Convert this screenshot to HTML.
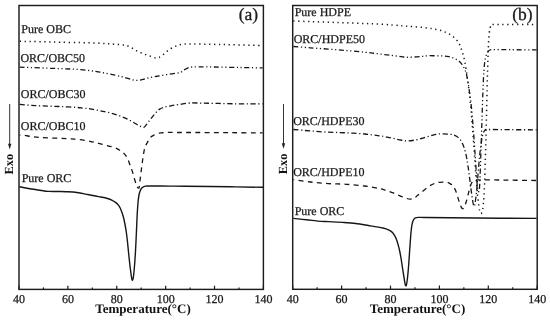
<!DOCTYPE html>
<html><head><meta charset="utf-8"><title>DSC curves</title>
<style>html,body{margin:0;padding:0;background:#fff;width:550px;height:320px;overflow:hidden}svg{display:block;text-rendering:geometricPrecision}</style>
</head><body>
<svg width="550" height="320" viewBox="0 0 550 320">
<rect width="550" height="320" fill="#fff"/>
<g fill="none" stroke="#1c1c1c" stroke-width="1.45">
<rect x="19.0" y="5.5" width="244.40" height="283.90"/>
<rect x="292.7" y="5.5" width="244.50" height="283.80"/>
</g>
<g stroke="#1c1c1c" stroke-width="1.2">
<line x1="19.00" y1="289.4" x2="19.00" y2="285.70"/>
<line x1="43.44" y1="289.4" x2="43.44" y2="287.40"/>
<line x1="67.88" y1="289.4" x2="67.88" y2="285.70"/>
<line x1="92.32" y1="289.4" x2="92.32" y2="287.40"/>
<line x1="116.76" y1="289.4" x2="116.76" y2="285.70"/>
<line x1="141.20" y1="289.4" x2="141.20" y2="287.40"/>
<line x1="165.64" y1="289.4" x2="165.64" y2="285.70"/>
<line x1="190.08" y1="289.4" x2="190.08" y2="287.40"/>
<line x1="214.52" y1="289.4" x2="214.52" y2="285.70"/>
<line x1="238.96" y1="289.4" x2="238.96" y2="287.40"/>
<line x1="263.40" y1="289.4" x2="263.40" y2="285.70"/>
<line x1="292.70" y1="289.3" x2="292.70" y2="285.60"/>
<line x1="317.15" y1="289.3" x2="317.15" y2="287.30"/>
<line x1="341.60" y1="289.3" x2="341.60" y2="285.60"/>
<line x1="366.05" y1="289.3" x2="366.05" y2="287.30"/>
<line x1="390.50" y1="289.3" x2="390.50" y2="285.60"/>
<line x1="414.95" y1="289.3" x2="414.95" y2="287.30"/>
<line x1="439.40" y1="289.3" x2="439.40" y2="285.60"/>
<line x1="463.85" y1="289.3" x2="463.85" y2="287.30"/>
<line x1="488.30" y1="289.3" x2="488.30" y2="285.60"/>
<line x1="512.75" y1="289.3" x2="512.75" y2="287.30"/>
<line x1="537.20" y1="289.3" x2="537.20" y2="285.60"/>
</g>
<g font-family="'Liberation Serif', serif" font-size="12" fill="#1a1a1a" stroke="#1a1a1a" stroke-width="0.25">
<text x="19.00" y="302.6" text-anchor="middle">40</text>
<text x="67.88" y="302.6" text-anchor="middle">60</text>
<text x="116.76" y="302.6" text-anchor="middle">80</text>
<text x="165.64" y="302.6" text-anchor="middle">100</text>
<text x="214.52" y="302.6" text-anchor="middle">120</text>
<text x="263.40" y="302.6" text-anchor="middle">140</text>
<text x="292.70" y="302.6" text-anchor="middle">40</text>
<text x="341.60" y="302.6" text-anchor="middle">60</text>
<text x="390.50" y="302.6" text-anchor="middle">80</text>
<text x="439.40" y="302.6" text-anchor="middle">100</text>
<text x="488.30" y="302.6" text-anchor="middle">120</text>
<text x="537.20" y="302.6" text-anchor="middle">140</text>
<text x="21.3" y="32.7">Pure OBC</text>
<text x="20.4" y="62.3">ORC/OBC50</text>
<text x="20.8" y="98.0">ORC/OBC30</text>
<text x="20.8" y="129.9">ORC/OBC10</text>
<text x="21.7" y="181.9">Pure ORC</text>
<text x="294.7" y="16.1">Pure HDPE</text>
<text x="293.7" y="42.7">ORC/HDPE50</text>
<text x="293.2" y="125.2">ORC/HDPE30</text>
<text x="293.2" y="176.4">ORC/HDPE10</text>
<text x="294.7" y="214.5">Pure ORC</text>
</g>
<g font-family="'Liberation Serif', serif" font-size="17.5" fill="#1a1a1a" stroke="#1a1a1a" stroke-width="0.3">
<text x="238.7" y="19.6">(a)</text>
<text x="512.3" y="19.5">(b)</text>
</g>
<g font-family="'Liberation Serif', serif" font-size="13" font-weight="bold" fill="#111">
<text x="95.3" y="312.7">Temperature(°C)</text>
<text x="369.8" y="313">Temperature(°C)</text>
<text transform="translate(12.6,164.2) rotate(-90)" font-size="12.4" text-anchor="middle">Exo</text>
<text transform="translate(286.9,163.9) rotate(-90)" font-size="12.4" text-anchor="middle">Exo</text>
</g>
<line x1="9.7" y1="104" x2="9.7" y2="145" stroke="#333" stroke-width="1"/>
<path d="M8.0,143.8 L11.4,143.8 L9.7,149.6 Z" fill="#222"/>
<line x1="283.5" y1="104" x2="283.5" y2="144" stroke="#333" stroke-width="1"/>
<path d="M281.8,143.2 L285.2,143.2 L283.5,148.8 Z" fill="#222"/>
<path d="M19.80,41.30 C21.50,41.33 25.80,41.42 30.00,41.50 C34.20,41.58 40.00,41.68 45.00,41.80 C50.00,41.92 54.17,42.07 60.00,42.20 C65.83,42.33 74.00,42.47 80.00,42.60 C86.00,42.73 91.00,42.78 96.00,43.00 C101.00,43.22 105.47,43.57 110.00,43.90 C114.53,44.23 120.22,44.65 123.20,45.00 C126.18,45.35 126.38,45.47 127.90,46.00 C129.42,46.53 130.90,47.42 132.30,48.20 C133.70,48.98 134.92,49.97 136.30,50.70 C137.68,51.43 139.18,52.00 140.60,52.60 C142.02,53.20 143.32,53.77 144.80,54.30 C146.28,54.83 148.02,55.28 149.50,55.80 C150.98,56.32 152.53,57.03 153.70,57.40 C154.87,57.77 155.62,57.98 156.50,58.00 C157.38,58.02 157.98,57.97 159.00,57.50 C160.02,57.03 161.42,56.12 162.60,55.20 C163.78,54.28 164.87,53.02 166.10,52.00 C167.33,50.98 168.60,49.98 170.00,49.10 C171.40,48.22 173.03,47.38 174.50,46.70 C175.97,46.02 177.33,45.42 178.80,45.00 C180.27,44.58 181.65,44.38 183.30,44.20 C184.95,44.02 185.92,43.92 188.70,43.90 C191.48,43.88 194.78,44.00 200.00,44.10 C205.22,44.20 213.33,44.35 220.00,44.50 C226.67,44.65 232.90,44.83 240.00,45.00 C247.10,45.17 258.83,45.42 262.60,45.50" fill="none" stroke="#161616" stroke-width="1.5" stroke-dasharray="1.3 3.6" stroke-linejoin="round" stroke-linecap="butt"/>
<path d="M19.60,67.10 C21.33,67.17 25.43,67.32 30.00,67.50 C34.57,67.68 41.67,68.00 47.00,68.20 C52.33,68.40 57.17,68.52 62.00,68.70 C66.83,68.88 71.33,68.98 76.00,69.30 C80.67,69.62 86.00,70.12 90.00,70.60 C94.00,71.08 96.67,71.62 100.00,72.20 C103.33,72.78 106.42,73.37 110.00,74.10 C113.58,74.83 118.38,75.83 121.50,76.60 C124.62,77.37 126.78,78.15 128.70,78.70 C130.62,79.25 131.70,79.63 133.00,79.90 C134.30,80.17 135.33,80.27 136.50,80.30 C137.67,80.33 138.75,80.30 140.00,80.10 C141.25,79.90 142.48,79.50 144.00,79.10 C145.52,78.70 146.80,78.20 149.10,77.70 C151.40,77.20 154.65,76.65 157.80,76.10 C160.95,75.55 164.60,74.93 168.00,74.40 C171.40,73.87 175.95,73.33 178.20,72.90 C180.45,72.47 180.53,72.28 181.50,71.80 C182.47,71.32 183.08,70.58 184.00,70.00 C184.92,69.42 185.92,68.77 187.00,68.30 C188.08,67.83 188.58,67.45 190.50,67.20 C192.42,66.95 194.58,66.83 198.50,66.80 C202.42,66.77 207.08,66.88 214.00,67.00 C220.92,67.12 231.90,67.35 240.00,67.50 C248.10,67.65 258.83,67.83 262.60,67.90" fill="none" stroke="#161616" stroke-width="1.3" stroke-dasharray="5 2.6 1.2 2.6 1.2 2.6" stroke-linejoin="round" stroke-linecap="butt"/>
<path d="M19.60,104.40 C21.33,104.53 26.63,104.97 30.00,105.20 C33.37,105.43 36.47,105.63 39.80,105.80 C43.13,105.97 46.37,106.07 50.00,106.20 C53.63,106.33 57.23,106.40 61.60,106.60 C65.97,106.80 72.47,107.13 76.20,107.40 C79.93,107.67 81.70,107.97 84.00,108.20 C86.30,108.43 87.78,108.47 90.00,108.80 C92.22,109.13 94.88,109.73 97.30,110.20 C99.72,110.67 102.08,111.07 104.50,111.60 C106.92,112.13 109.37,112.72 111.80,113.40 C114.23,114.08 116.67,114.83 119.10,115.70 C121.53,116.57 123.98,117.47 126.40,118.60 C128.82,119.73 131.42,121.28 133.60,122.50 C135.78,123.72 138.05,125.13 139.50,125.90 C140.95,126.67 141.62,126.85 142.30,127.10 C142.98,127.35 143.18,127.48 143.60,127.40 C144.02,127.32 144.33,127.05 144.80,126.60 C145.27,126.15 145.70,125.60 146.40,124.70 C147.10,123.80 148.10,122.38 149.00,121.20 C149.90,120.02 150.87,118.77 151.80,117.60 C152.73,116.43 153.68,115.28 154.60,114.20 C155.52,113.12 156.40,111.98 157.30,111.10 C158.20,110.22 159.05,109.48 160.00,108.90 C160.95,108.32 162.00,107.97 163.00,107.60 C164.00,107.23 164.50,107.03 166.00,106.70 C167.50,106.37 169.82,105.97 172.00,105.60 C174.18,105.23 176.28,104.92 179.10,104.50 C181.92,104.08 185.78,103.35 188.90,103.10 C192.02,102.85 190.02,102.88 197.80,103.00 C205.58,103.12 224.80,103.65 235.60,103.80 C246.40,103.95 258.10,103.88 262.60,103.90" fill="none" stroke="#161616" stroke-width="1.3" stroke-dasharray="5.2 2.6 1.2 2.6" stroke-linejoin="round" stroke-linecap="butt"/>
<path d="M19.60,135.10 C20.37,135.15 22.13,135.15 24.20,135.40 C26.27,135.65 29.40,136.25 32.00,136.60 C34.60,136.95 36.80,137.27 39.80,137.50 C42.80,137.73 46.37,137.87 50.00,138.00 C53.63,138.13 58.27,138.17 61.60,138.30 C64.93,138.43 67.08,138.58 70.00,138.80 C72.92,139.02 75.77,139.18 79.10,139.60 C82.43,140.02 86.97,140.73 90.00,141.30 C93.03,141.87 94.88,142.40 97.30,143.00 C99.72,143.60 102.08,144.27 104.50,144.90 C106.92,145.53 109.72,146.18 111.80,146.80 C113.88,147.42 115.55,147.93 117.00,148.60 C118.45,149.27 119.42,150.07 120.50,150.80 C121.58,151.53 122.58,152.17 123.50,153.00 C124.42,153.83 125.25,154.72 126.00,155.80 C126.75,156.88 127.33,157.97 128.00,159.50 C128.67,161.03 129.25,162.93 130.00,165.00 C130.75,167.07 131.75,169.57 132.50,171.90 C133.25,174.23 133.88,176.90 134.50,179.00 C135.12,181.10 135.68,183.08 136.20,184.50 C136.72,185.92 137.22,186.88 137.60,187.50 C137.98,188.12 138.22,188.28 138.50,188.20 C138.78,188.12 139.03,188.37 139.30,187.00 C139.57,185.63 139.78,182.67 140.10,180.00 C140.42,177.33 140.85,173.83 141.20,171.00 C141.55,168.17 141.83,165.67 142.20,163.00 C142.57,160.33 143.00,157.42 143.40,155.00 C143.80,152.58 144.13,150.23 144.60,148.50 C145.07,146.77 145.63,145.80 146.20,144.60 C146.77,143.40 147.30,142.48 148.00,141.30 C148.70,140.12 149.47,138.50 150.40,137.50 C151.33,136.50 152.33,135.98 153.60,135.30 C154.87,134.62 156.63,133.82 158.00,133.40 C159.37,132.98 160.25,132.97 161.80,132.80 C163.35,132.63 164.75,132.45 167.30,132.40 C169.85,132.35 172.57,132.48 177.10,132.50 C181.63,132.52 185.68,132.47 194.50,132.50 C203.32,132.53 218.65,132.63 230.00,132.70 C241.35,132.77 257.17,132.87 262.60,132.90" fill="none" stroke="#161616" stroke-width="1.3" stroke-dasharray="4.9 4.3" stroke-dashoffset="3.9" stroke-linejoin="round" stroke-linecap="butt"/>
<path d="M19.40,186.70 C20.68,186.95 24.30,187.70 27.10,188.20 C29.90,188.70 33.32,189.23 36.20,189.70 C39.08,190.17 42.43,190.72 44.40,191.00 C46.37,191.28 45.58,191.32 48.00,191.40 C50.42,191.48 55.90,191.45 58.90,191.50 C61.90,191.55 63.00,191.53 66.00,191.70 C69.00,191.87 73.27,192.03 76.90,192.50 C80.53,192.97 84.17,193.82 87.80,194.50 C91.43,195.18 95.42,195.93 98.70,196.60 C101.98,197.27 105.25,197.88 107.50,198.50 C109.75,199.12 110.87,199.65 112.20,200.30 C113.53,200.95 114.50,201.63 115.50,202.40 C116.50,203.17 117.40,203.93 118.20,204.90 C119.00,205.87 119.67,206.93 120.30,208.20 C120.93,209.47 121.48,211.03 122.00,212.50 C122.52,213.97 122.88,214.92 123.40,217.00 C123.92,219.08 124.62,222.50 125.10,225.00 C125.58,227.50 125.92,229.33 126.30,232.00 C126.68,234.67 127.00,237.33 127.40,241.00 C127.80,244.67 128.27,249.83 128.70,254.00 C129.13,258.17 129.60,262.58 130.00,266.00 C130.40,269.42 130.80,272.37 131.10,274.50 C131.40,276.63 131.60,277.85 131.80,278.80 C132.00,279.75 132.13,280.07 132.30,280.20 C132.47,280.33 132.62,280.13 132.80,279.60 C132.98,279.07 133.18,278.52 133.40,277.00 C133.62,275.48 133.87,273.00 134.10,270.50 C134.33,268.00 134.57,265.25 134.80,262.00 C135.03,258.75 135.27,255.17 135.50,251.00 C135.73,246.83 135.98,241.67 136.20,237.00 C136.42,232.33 136.60,227.33 136.80,223.00 C137.00,218.67 137.18,214.58 137.40,211.00 C137.62,207.42 137.83,204.17 138.10,201.50 C138.37,198.83 138.65,196.78 139.00,195.00 C139.35,193.22 139.77,191.93 140.20,190.80 C140.63,189.67 141.07,188.85 141.60,188.20 C142.13,187.55 142.70,187.25 143.40,186.90 C144.10,186.55 144.87,186.25 145.80,186.10 C146.73,185.95 144.97,186.00 149.00,186.00 C153.03,186.00 163.98,186.07 170.00,186.10 C176.02,186.13 175.10,186.08 185.10,186.20 C195.10,186.32 217.02,186.62 230.00,186.80 C242.98,186.98 257.50,187.22 263.00,187.30" fill="none" stroke="#161616" stroke-width="1.4" stroke-linejoin="round" stroke-linecap="butt"/>
<path d="M293.40,20.90 C296.17,21.02 304.17,21.38 310.00,21.60 C315.83,21.82 322.40,22.00 328.40,22.20 C334.40,22.40 339.95,22.58 346.00,22.80 C352.05,23.02 359.03,23.28 364.70,23.50 C370.37,23.72 375.33,23.85 380.00,24.10 C384.67,24.35 388.92,24.70 392.70,25.00 C396.48,25.30 399.52,25.65 402.70,25.90 C405.88,26.15 408.47,26.25 411.80,26.50 C415.13,26.75 419.37,27.05 422.70,27.40 C426.03,27.75 429.42,28.23 431.80,28.60 C434.18,28.97 435.48,29.28 437.00,29.60 C438.52,29.92 439.73,30.17 440.90,30.50 C442.07,30.83 443.02,31.22 444.00,31.60 C444.98,31.98 445.80,32.33 446.80,32.80 C447.80,33.27 449.05,33.85 450.00,34.40 C450.95,34.95 451.70,35.47 452.50,36.10 C453.30,36.73 453.97,37.38 454.80,38.20 C455.63,39.02 456.70,39.93 457.50,41.00 C458.30,42.07 458.93,43.18 459.60,44.60 C460.27,46.02 460.87,47.68 461.50,49.50 C462.13,51.32 462.85,53.42 463.40,55.50 C463.95,57.58 464.33,59.58 464.80,62.00 C465.27,64.42 465.73,67.00 466.20,70.00 C466.67,73.00 467.07,76.00 467.60,80.00 C468.13,84.00 468.80,88.67 469.40,94.00 C470.00,99.33 470.63,105.67 471.20,112.00 C471.77,118.33 472.28,125.33 472.80,132.00 C473.32,138.67 473.82,145.33 474.30,152.00 C474.78,158.67 475.27,166.00 475.70,172.00 C476.13,178.00 476.53,183.58 476.90,188.00 C477.27,192.42 477.58,195.58 477.90,198.50 C478.22,201.42 478.52,203.50 478.80,205.50 C479.08,207.50 479.32,209.20 479.60,210.50 C479.88,211.80 480.20,212.85 480.50,213.30 C480.80,213.75 481.10,213.58 481.40,213.20 C481.70,212.82 482.00,212.28 482.30,211.00 C482.60,209.72 482.92,208.00 483.20,205.50 C483.48,203.00 483.75,200.25 484.00,196.00 C484.25,191.75 484.48,186.00 484.70,180.00 C484.92,174.00 485.10,166.67 485.30,160.00 C485.50,153.33 485.70,147.50 485.90,140.00 C486.10,132.50 486.30,123.33 486.50,115.00 C486.70,106.67 486.92,97.50 487.10,90.00 C487.28,82.50 487.43,76.00 487.60,70.00 C487.77,64.00 487.93,58.67 488.10,54.00 C488.27,49.33 488.42,45.42 488.60,42.00 C488.78,38.58 488.95,35.83 489.20,33.50 C489.45,31.17 489.75,29.37 490.10,28.00 C490.45,26.63 490.82,25.87 491.30,25.30 C491.78,24.73 489.88,24.73 493.00,24.60 C496.12,24.47 502.73,24.50 510.00,24.50 C517.27,24.50 532.17,24.58 536.60,24.60" fill="none" stroke="#161616" stroke-width="1.5" stroke-dasharray="1.3 3.6" stroke-linejoin="round" stroke-linecap="butt"/>
<path d="M293.40,46.50 C296.20,46.72 304.37,47.37 310.20,47.80 C316.03,48.23 322.35,48.65 328.40,49.10 C334.45,49.55 340.45,49.98 346.50,50.50 C352.55,51.02 359.78,51.70 364.70,52.20 C369.62,52.70 372.25,53.05 376.00,53.50 C379.75,53.95 384.00,54.50 387.20,54.90 C390.40,55.30 392.65,55.58 395.20,55.90 C397.75,56.22 400.20,56.57 402.50,56.80 C404.80,57.03 406.58,57.30 409.00,57.30 C411.42,57.30 414.70,56.97 417.00,56.80 C419.30,56.63 420.87,56.48 422.80,56.30 C424.73,56.12 426.42,55.78 428.60,55.70 C430.78,55.62 433.47,55.77 435.90,55.80 C438.33,55.83 441.02,55.75 443.20,55.90 C445.38,56.05 447.37,56.38 449.00,56.70 C450.63,57.02 451.78,57.35 453.00,57.80 C454.22,58.25 455.30,58.83 456.30,59.40 C457.30,59.97 458.18,60.55 459.00,61.20 C459.82,61.85 460.50,62.45 461.20,63.30 C461.90,64.15 462.57,65.18 463.20,66.30 C463.83,67.42 464.45,68.63 465.00,70.00 C465.55,71.37 466.03,72.67 466.50,74.50 C466.97,76.33 467.35,78.42 467.80,81.00 C468.25,83.58 468.75,87.00 469.20,90.00 C469.65,93.00 470.12,96.00 470.50,99.00 C470.88,102.00 471.18,104.83 471.50,108.00 C471.82,111.17 472.12,114.67 472.40,118.00 C472.68,121.33 472.95,124.83 473.20,128.00 C473.45,131.17 473.68,133.95 473.90,137.00 C474.12,140.05 474.30,143.47 474.50,146.30 C474.70,149.13 474.90,151.22 475.10,154.00 C475.30,156.78 475.50,160.00 475.70,163.00 C475.90,166.00 476.10,169.00 476.30,172.00 C476.50,175.00 476.70,178.42 476.90,181.00 C477.10,183.58 477.28,185.83 477.50,187.50 C477.72,189.17 477.97,190.33 478.20,191.00 C478.43,191.67 478.68,192.00 478.90,191.50 C479.12,191.00 479.32,190.25 479.50,188.00 C479.68,185.75 479.83,182.00 480.00,178.00 C480.17,174.00 480.33,168.67 480.50,164.00 C480.67,159.33 480.83,154.83 481.00,150.00 C481.17,145.17 481.35,139.67 481.50,135.00 C481.65,130.33 481.75,126.83 481.90,122.00 C482.05,117.17 482.23,111.00 482.40,106.00 C482.57,101.00 482.73,96.33 482.90,92.00 C483.07,87.67 483.23,83.50 483.40,80.00 C483.57,76.50 483.72,73.67 483.90,71.00 C484.08,68.33 484.27,66.03 484.50,64.00 C484.73,61.97 484.97,60.38 485.30,58.80 C485.63,57.22 486.05,55.72 486.50,54.50 C486.95,53.28 487.42,52.25 488.00,51.50 C488.58,50.75 489.17,50.32 490.00,50.00 C490.83,49.68 489.67,49.65 493.00,49.60 C496.33,49.55 502.73,49.65 510.00,49.70 C517.27,49.75 532.17,49.87 536.60,49.90" fill="none" stroke="#161616" stroke-width="1.3" stroke-dasharray="5 2.6 1.2 2.6 1.2 2.6" stroke-linejoin="round" stroke-linecap="butt"/>
<path d="M293.40,129.50 C296.20,129.73 304.37,130.45 310.20,130.90 C316.03,131.35 322.35,131.88 328.40,132.20 C334.45,132.52 340.45,132.50 346.50,132.80 C352.55,133.10 359.23,133.50 364.70,134.00 C370.17,134.50 375.92,135.35 379.30,135.80 C382.68,136.25 382.83,136.30 385.00,136.70 C387.17,137.10 389.88,137.68 392.30,138.20 C394.72,138.72 397.08,139.35 399.50,139.80 C401.92,140.25 404.37,140.83 406.80,140.90 C409.23,140.97 411.67,140.60 414.10,140.20 C416.53,139.80 418.98,139.15 421.40,138.50 C423.82,137.85 426.18,137.00 428.60,136.30 C431.02,135.60 433.47,134.72 435.90,134.30 C438.33,133.88 440.77,133.80 443.20,133.80 C445.63,133.80 448.70,134.10 450.50,134.30 C452.30,134.50 452.95,134.63 454.00,135.00 C455.05,135.37 455.97,135.95 456.80,136.50 C457.63,137.05 458.32,137.62 459.00,138.30 C459.68,138.98 460.30,139.68 460.90,140.60 C461.50,141.52 462.07,142.63 462.60,143.80 C463.13,144.97 463.62,146.15 464.10,147.60 C464.58,149.05 465.05,150.68 465.50,152.50 C465.95,154.32 466.38,156.25 466.80,158.50 C467.22,160.75 467.62,163.42 468.00,166.00 C468.38,168.58 468.75,171.33 469.10,174.00 C469.45,176.67 469.78,179.50 470.10,182.00 C470.42,184.50 470.70,186.75 471.00,189.00 C471.30,191.25 471.60,193.42 471.90,195.50 C472.20,197.58 472.52,199.83 472.80,201.50 C473.08,203.17 473.35,204.72 473.60,205.50 C473.85,206.28 474.07,206.53 474.30,206.20 C474.53,205.87 474.75,204.87 475.00,203.50 C475.25,202.13 475.52,200.25 475.80,198.00 C476.08,195.75 476.38,193.33 476.70,190.00 C477.02,186.67 477.35,182.17 477.70,178.00 C478.05,173.83 478.45,169.00 478.80,165.00 C479.15,161.00 479.47,157.17 479.80,154.00 C480.13,150.83 480.47,148.42 480.80,146.00 C481.13,143.58 481.47,141.42 481.80,139.50 C482.13,137.58 482.43,135.83 482.80,134.50 C483.17,133.17 483.55,132.25 484.00,131.50 C484.45,130.75 484.92,130.33 485.50,130.00 C486.08,129.67 483.42,129.55 487.50,129.50 C491.58,129.45 501.82,129.65 510.00,129.70 C518.18,129.75 532.17,129.78 536.60,129.80" fill="none" stroke="#161616" stroke-width="1.3" stroke-dasharray="5.2 2.6 1.2 2.6" stroke-linejoin="round" stroke-linecap="butt"/>
<path d="M293.40,179.60 C296.20,180.00 304.37,181.33 310.20,182.00 C316.03,182.67 322.35,183.22 328.40,183.60 C334.45,183.98 340.45,183.90 346.50,184.30 C352.55,184.70 359.23,185.28 364.70,186.00 C370.17,186.72 375.92,187.90 379.30,188.60 C382.68,189.30 382.83,189.52 385.00,190.20 C387.17,190.88 389.88,191.80 392.30,192.70 C394.72,193.60 397.08,194.63 399.50,195.60 C401.92,196.57 404.97,197.92 406.80,198.50 C408.63,199.08 409.43,199.12 410.50,199.10 C411.57,199.08 412.32,198.77 413.20,198.40 C414.08,198.03 414.43,197.90 415.80,196.90 C417.17,195.90 419.27,194.13 421.40,192.40 C423.53,190.67 426.18,188.07 428.60,186.50 C431.02,184.93 433.47,183.73 435.90,183.00 C438.33,182.27 441.35,182.22 443.20,182.10 C445.05,181.98 445.95,182.10 447.00,182.30 C448.05,182.50 448.70,182.88 449.50,183.30 C450.30,183.72 451.08,184.15 451.80,184.80 C452.52,185.45 453.17,186.23 453.80,187.20 C454.43,188.17 455.02,189.20 455.60,190.60 C456.18,192.00 456.73,193.83 457.30,195.60 C457.87,197.37 458.45,199.52 459.00,201.20 C459.55,202.88 460.13,204.57 460.60,205.70 C461.07,206.83 461.42,207.50 461.80,208.00 C462.18,208.50 462.53,208.77 462.90,208.70 C463.27,208.63 463.60,208.30 464.00,207.60 C464.40,206.90 464.87,205.68 465.30,204.50 C465.73,203.32 466.17,201.98 466.60,200.50 C467.03,199.02 467.48,197.27 467.90,195.60 C468.32,193.93 468.70,192.07 469.10,190.50 C469.50,188.93 469.88,187.45 470.30,186.20 C470.72,184.95 471.12,183.87 471.60,183.00 C472.08,182.13 472.55,181.48 473.20,181.00 C473.85,180.52 474.37,180.30 475.50,180.10 C476.63,179.90 475.92,179.82 480.00,179.80 C484.08,179.78 490.57,179.88 500.00,180.00 C509.43,180.12 530.50,180.42 536.60,180.50" fill="none" stroke="#161616" stroke-width="1.3" stroke-dasharray="4.9 4.3" stroke-dashoffset="3.9" stroke-linejoin="round" stroke-linecap="butt"/>
<path d="M293.40,218.40 C295.58,218.63 301.88,219.30 306.50,219.80 C311.12,220.30 317.45,221.10 321.10,221.40 C324.75,221.70 324.77,221.43 328.40,221.60 C332.03,221.77 338.37,222.08 342.90,222.40 C347.43,222.72 351.35,222.98 355.60,223.50 C359.85,224.02 363.85,224.75 368.40,225.50 C372.95,226.25 379.63,227.32 382.90,228.00 C386.17,228.68 386.57,229.00 388.00,229.60 C389.43,230.20 390.47,230.73 391.50,231.60 C392.53,232.47 393.38,233.53 394.20,234.80 C395.02,236.07 395.72,237.43 396.40,239.20 C397.08,240.97 397.72,243.27 398.30,245.40 C398.88,247.53 399.40,249.57 399.90,252.00 C400.40,254.43 400.85,257.25 401.30,260.00 C401.75,262.75 402.18,265.80 402.60,268.50 C403.02,271.20 403.45,273.98 403.80,276.20 C404.15,278.42 404.45,280.35 404.70,281.80 C404.95,283.25 405.12,284.22 405.30,284.90 C405.48,285.58 405.63,285.85 405.80,285.90 C405.97,285.95 406.12,285.77 406.30,285.20 C406.48,284.63 406.68,283.87 406.90,282.50 C407.12,281.13 407.37,279.17 407.60,277.00 C407.83,274.83 408.07,272.25 408.30,269.50 C408.53,266.75 408.77,263.75 409.00,260.50 C409.23,257.25 409.47,253.42 409.70,250.00 C409.93,246.58 410.18,242.92 410.40,240.00 C410.62,237.08 410.78,234.75 411.00,232.50 C411.22,230.25 411.43,228.25 411.70,226.50 C411.97,224.75 412.25,223.20 412.60,222.00 C412.95,220.80 413.32,219.98 413.80,219.30 C414.28,218.62 414.80,218.22 415.50,217.90 C416.20,217.58 416.42,217.47 418.00,217.40 C419.58,217.33 419.67,217.45 425.00,217.50 C430.33,217.55 437.50,217.58 450.00,217.70 C462.50,217.82 485.57,218.08 500.00,218.20 C514.43,218.32 530.50,218.37 536.60,218.40" fill="none" stroke="#161616" stroke-width="1.4" stroke-linejoin="round" stroke-linecap="butt"/>
</svg>
</body></html>
